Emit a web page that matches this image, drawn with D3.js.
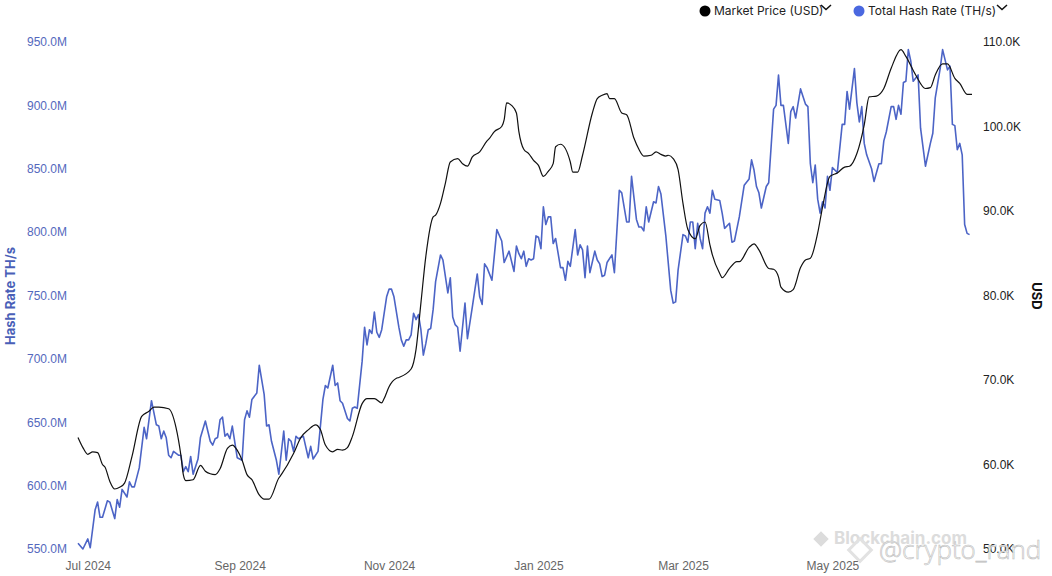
<!DOCTYPE html>
<html lang="en">
  <head>
    <title>Hash Rate vs Market Price</title>
    <meta charset="UTF-8" />
    <script src="https://d3js.org/d3.v7.min.js"></script>
    <style>
      body {
        margin: 0;
        background-color: #ffffff;
        font-family: Inter, "Liberation Sans", sans-serif;
      }
      svg {
        display: block;
      }
      .tick text {
        font-size: 12px;
      }
      .left-axis text {
        fill: #5468bd;
      }
      .right-axis text {
        fill: #222;
      }
      .bottom-axis text {
        fill: #666;
      }
      .legend-label {
        font-size: 12px;
        fill: #222;
      }
      .axis-title {
        font-size: 13px;
        font-weight: bold;
      }
    </style>
  </head>
  <body>
    <div id="chart"></div>

    <script>
      // days since 27 Jun 2024 for each reading
      const startDate = new Date(2024, 5, 27);

      const hashDays = [
        0,2,4,5,7,8,9,10,12,13,
        15,16,17,18,20,21,22,23,25,27,
        28,30,32,33,34,35,36,37,38,39,
        41,42,43,44,45,46,47,49,50,52,
        54,55,56,57,58,59,60,61,62,63,
        65,67,68,69,70,71,73,74,76,77,
        78,79,81,82,84,85,86,87,88,89,
        90,92,94,95,96,98,100,101,102,104,
        105,106,107,108,110,111,112,113,114,116,
        117,118,119,120,121,122,123,124,126,127,
        128,129,131,132,133,134,135,136,137,138,
        139,140,141,142,143,144,145,146,148,149,
        151,152,153,154,155,156,158,159,161,163,
        164,165,166,167,169,171,173,174,176,177,
        178,179,180,181,182,183,184,185,186,187,
        188,189,190,191,192,193,194,195,197,198,
        199,200,201,203,204,205,206,207,208,209,
        211,212,213,214,215,216,218,219,221,222,
        224,225,226,228,229,230,231,232,233,235,
        236,237,238,240,242,243,244,245,247,248,
        249,250,251,252,253,254,255,256,257,258,
        259,260,262,263,264,266,267,268,270,272,
        274,275,276,277,278,279,281,282,283,284,
        285,286,287,288,290,291,292,293,295,297,
        298,299,300,301,302,303,304,305,306,307,
        308,310,312,313,314,315,317,318,319,320,
        321,322,324,325,327,328,329,330,332,333,
        334,335,336,337,338,339,340,341,343,344,
        346,348,349,350,352,353,355,356,357,358,
        359,360,361,362,363,364
      ];

      // total hash rate, millions of TH/s
      const hashValues = [
        554.5,550,558,551,581,587,575,575,588,587,
        574,589,583,597,591,603,599,599,614,646,
        637,667,648,647,637,643,638,624,622,627,
        624,624,611,615,611,623,609,621,638,651,
        635,632,637,638,652,654,639,641,637,647,
        622,620,652,659,654,668,673,695,672,647,
        648,635,620,609,643,620,637,635,627,639,
        637,639,622,631,621,627,668,679,677,695,
        679,681,667,665,653,651,661,662,661,698,
        725,711,723,720,737,721,717,723,749,755,
        755,749,725,715,710,715,715,719,736,731,
        735,723,703,712,723,724,739,761,782,778,
        752,764,733,727,725,706,744,716,741,767,
        749,743,775,772,762,802,793,776,785,777,
        769,789,783,779,785,773,779,778,779,797,
        796,787,820,806,812,812,791,795,772,772,
        762,777,773,802,782,790,786,764,789,768,
        785,778,775,765,766,776,782,768,833,831,
        808,808,844,810,804,804,801,820,808,824,
        823,836,830,797,754,744,745,770,798,797,
        792,808,808,787,807,795,787,815,820,815,
        833,826,825,815,803,807,792,793,812,837,
        842,857,849,836,831,819,836,839,868,897,
        900,924,900,900,870,895,899,890,913,901,
        899,854,839,853,826,815,824,819,844,833,
        851,847,885,885,911,897,929,902,887,899,
        870,861,850,840,854,854,872,879,899,899,
        889,900,893,918,919,944,935,919,924,882,
        852,870,878,906,929,944,928,931,885,884,
        865,870,861,806,799,798
      ];

      const priceDays = [
        0,2,4,6,8,10,11,13,15,17,
        19,22,26,29,31,33,37,40,42,43,
        44,47,50,52,54,56,58,61,63,65,
        67,69,71,74,76,78,82,83,88,91,
        94,97,99,101,104,106,108,110,112,116,
        118,121,124,125,127,130,131,136,138,140,
        142,145,146,148,150,152,155,157,159,161,
        164,167,168,170,173,174,175,177,179,180,
        182,184,186,188,190,192,194,195,197,201,
        202,204,206,210,212,214,216,217,219,222,
        224,227,229,231,234,236,238,240,241,243,
        245,247,249,252,254,256,258,259,262,263,
        266,269,270,274,276,278,282,284,286,287,
        290,292,295,297,299,302,304,307,310,313,
        315,318,321,323,326,329,332,336,338,342,
        346,348,350,353,355,358,360,363,365
      ];

      // market price, thousands of USD
      const priceValues = [
        63.2,62.0,61.2,61.5,61.4,60.0,59.7,58.0,57.1,57.3,
        57.8,60.9,65.7,66.3,66.8,66.8,66.6,64.4,61.1,58.8,
        58.1,58.2,59.9,59.2,58.9,58.8,59.5,61.9,62.3,61.7,
        60.5,58.8,58.2,56.4,55.9,55.9,58.4,58.8,61.3,63.2,
        64.1,64.7,64.1,62.3,61.5,61.8,61.7,62.0,63.3,67.2,
        67.8,67.8,67.3,67.8,69.2,70.2,70.3,71.3,73.6,79.1,
        84.6,89.3,89.5,90.9,93.3,95.8,96.2,95.6,95.3,96.4,
        97.0,98.3,98.6,99.4,100.0,100.8,102.8,102.5,101.6,99.4,
        97.3,96.8,96.0,95.4,94.1,94.7,95.6,97.6,97.9,95.8,
        94.6,94.6,96.6,101.6,103.3,103.7,103.9,103.3,103.3,101.6,
        101.4,98.6,97.3,96.5,96.6,97.0,96.7,96.5,96.6,96.2,
        94.9,90.9,87.8,86.7,88.3,88.7,86.0,84.8,82.6,82.1,
        83.2,84.0,84.0,85.7,86.1,85.4,83.2,83.1,82.2,81.0,
        80.4,80.7,83.3,84.2,84.4,87.4,90.5,94.1,94.5,95.2,
        95.3,96.8,100.2,103.5,103.6,104.5,106.9,109.1,108.3,106.1,
        104.5,104.6,106.1,107.4,107.4,105.7,105.1,103.8,103.8
      ];

      const hashTicks = [550, 600, 650, 700, 750, 800, 850, 900, 950];
      const priceTicks = [50, 60, 70, 80, 90, 100, 110];
      const monthTicks = [
        new Date(2024, 6, 1),
        new Date(2024, 8, 1),
        new Date(2024, 10, 1),
        new Date(2025, 0, 1),
        new Date(2025, 2, 1),
        new Date(2025, 4, 1),
      ];

      const legendItems = ["Market Price (USD)", "Total Hash Rate (TH/s)"];

      const width = 1052,
        height = 576;

      const svg = d3
        .select("#chart")
        .append("svg")
        .attr("width", width)
        .attr("height", height);

      const toDate = (d) => d3.timeDay.offset(startDate, d);

      // 365 days of data run from x=78 to x=972
      const x = d3
        .scaleTime()
        .domain([startDate, toDate(365)])
        .range([78, 972]);
      const yHash = d3.scaleLinear().domain([550, 950]).range([549, 42]);
      const yPrice = d3.scaleLinear().domain([50, 110]).range([549, 42]);

      // Axes
      const leftAxis = svg
        .append("g")
        .attr("class", "left-axis")
        .attr("transform", "translate(70,0)")
        .call(
          d3
            .axisLeft(yHash)
            .tickValues(hashTicks)
            .tickSize(0)
            .tickPadding(3)
            .tickFormat((d) => d.toFixed(1) + "M")
        );
      leftAxis.select(".domain").remove();

      const rightAxis = svg
        .append("g")
        .attr("class", "right-axis")
        .attr("transform", "translate(980,0)")
        .call(
          d3
            .axisRight(yPrice)
            .tickValues(priceTicks)
            .tickSize(0)
            .tickPadding(3)
            .tickFormat((d) => d.toFixed(1) + "K")
        );
      rightAxis.select(".domain").remove();

      const bottomAxis = svg
        .append("g")
        .attr("class", "bottom-axis")
        .attr("transform", "translate(0,556)")
        .call(
          d3
            .axisBottom(x)
            .tickValues(monthTicks)
            .tickSize(0)
            .tickPadding(5)
            .tickFormat(d3.timeFormat("%b %Y"))
        );
      bottomAxis.select(".domain").remove();

      // Lines
      const hashLine = d3
        .line()
        .x((d) => x(toDate(d[0])))
        .y((d) => yHash(d[1]));

      const priceLine = d3
        .line()
        .curve(d3.curveMonotoneX)
        .x((d) => x(toDate(d[0])))
        .y((d) => yPrice(d[1]));

      svg
        .append("path")
        .datum(d3.zip(hashDays, hashValues))
        .attr("d", hashLine)
        .attr("fill", "none")
        .attr("stroke", "#4c64c6")
        .attr("stroke-width", 1.6)
        .attr("stroke-linejoin", "round");

      svg
        .append("path")
        .datum(d3.zip(priceDays, priceValues))
        .attr("d", priceLine)
        .attr("fill", "none")
        .attr("stroke", "#111")
        .attr("stroke-width", 1.2);

      // Axis titles
      svg
        .append("text")
        .attr("class", "axis-title")
        .attr("transform", "translate(15,296) rotate(-90)")
        .attr("text-anchor", "middle")
        .attr("fill", "#4a5fb8")
        .text("Hash Rate TH/s");

      svg
        .append("text")
        .attr("class", "axis-title")
        .attr("transform", "translate(1032,296) rotate(90)")
        .attr("text-anchor", "middle")
        .attr("fill", "#111")
        .text("USD");

      // Legend
      const legendX = [705, 859];
      const legendColors = ["#000000", "#4a68e0"];
      const legendChevronX = [826, 1002];
      legendItems.forEach((label, i) => {
        svg
          .append("circle")
          .attr("cx", legendX[i])
          .attr("cy", 11)
          .attr("r", 5.5)
          .attr("fill", legendColors[i]);
        svg
          .append("text")
          .attr("class", "legend-label")
          .attr("x", legendX[i] + 9)
          .attr("y", 15)
          .text(label);
        svg
          .append("path")
          .attr("transform", `translate(${legendChevronX[i]},7)`)
          .attr("d", "M-5,-2L0,2.5L5,-2")
          .attr("fill", "none")
          .attr("stroke", "#111")
          .attr("stroke-width", 1.5);
      });

      // Watermarks, drawn over the chart
      svg
        .append("rect")
        .attr("x", -5.5)
        .attr("y", -5.5)
        .attr("width", 11)
        .attr("height", 11)
        .attr("transform", "translate(821,539) rotate(45)")
        .attr("fill", "#dcdcdc");

      svg
        .append("text")
        .attr("x", 834)
        .attr("y", 544)
        .attr("font-size", 17)
        .attr("font-weight", "bold")
        .attr("fill", "#dcdcdc")
        .text("Blockchain.com");

      svg
        .append("rect")
        .attr("x", -8)
        .attr("y", -8)
        .attr("width", 16)
        .attr("height", 16)
        .attr("transform", "translate(860,550) rotate(45)")
        .attr("fill", "none")
        .attr("stroke", "#e2e2e2")
        .attr("stroke-width", 3);

      svg
        .append("text")
        .attr("x", 879)
        .attr("y", 559)
        .attr("font-size", 26)
        .attr("font-family", "'Open Sans', sans-serif")
        .attr("font-weight", 300)
        .attr("fill", "#ffffff")
        .attr("stroke", "#bdbdbd")
        .attr("stroke-width", 0.6)
        .text("@crypto_rand");
    </script>
  </body>
</html>
